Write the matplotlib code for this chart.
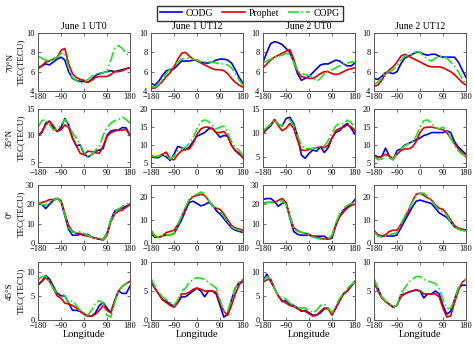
import numpy as np
import matplotlib
matplotlib.use("Agg")
import matplotlib.pyplot as plt

plt.rcParams['font.family'] = ['Liberation Serif', 'DejaVu Serif']
plt.rcParams['axes.unicode_minus'] = True

lon = list(range(-180, 181, 15))

titles = ["June 1 UT0", "June 1 UT12", "June 2 UT0", "June 2 UT12"]
row_labels = ["70°N", "35°N", "0°", "45°S"]
series_names = ["CODG", "Prophet", "COPG"]

# ---- 70°N ----
n70_codg = [
    [6.4, 6.6, 6.8, 6.7, 7.0, 7.3, 7.5, 7.2, 6.0, 5.3, 5.1, 5.0, 5.0, 4.9, 5.2, 5.6, 5.8, 5.9, 6.0, 6.1, 6.0, 6.1, 6.2, 6.3, 6.4],
    [4.8, 4.6, 5.0, 5.6, 6.1, 6.2, 6.3, 6.7, 7.1, 7.1, 7.1, 7.2, 7.2, 7.0, 6.9, 6.9, 7.0, 7.2, 7.3, 7.3, 7.2, 6.9, 6.2, 5.4, 4.8],
    [7.0, 8.0, 8.9, 9.1, 9.0, 8.8, 8.4, 8.0, 7.0, 5.8, 5.1, 5.3, 5.5, 5.9, 6.3, 6.7, 6.8, 6.8, 7.0, 7.2, 7.1, 6.8, 6.6, 6.6, 6.9],
    [5.3, 5.2, 5.5, 5.9, 5.9, 5.8, 6.0, 6.8, 7.4, 7.6, 7.8, 8.0, 8.0, 7.8, 7.7, 7.8, 7.8, 7.6, 7.5, 7.5, 7.5, 7.5, 7.0, 6.2, 5.4],
]
n70_prophet = [
    [6.3, 6.6, 7.0, 7.1, 7.3, 7.5, 8.2, 8.4, 6.8, 5.8, 5.4, 5.2, 5.1, 4.9, 5.1, 5.4, 5.5, 5.5, 5.5, 5.7, 6.0, 6.0, 6.1, 6.3, 6.4],
    [4.3, 4.3, 4.6, 5.0, 5.5, 5.9, 6.5, 7.3, 7.9, 8.0, 7.6, 7.3, 7.1, 6.9, 6.7, 6.5, 6.3, 6.2, 6.2, 6.1, 5.8, 5.3, 4.9, 4.6, 4.4],
    [6.4, 6.8, 7.2, 7.5, 7.7, 7.9, 8.1, 8.3, 7.3, 6.0, 5.5, 5.4, 5.3, 5.3, 5.5, 5.8, 6.0, 6.0, 5.8, 5.7, 5.8, 6.0, 6.2, 6.3, 6.4],
    [4.5, 4.6, 5.1, 5.8, 6.2, 6.5, 7.0, 7.6, 7.8, 7.6, 7.4, 7.2, 7.0, 6.8, 6.6, 6.5, 6.5, 6.5, 6.4, 6.2, 6.0, 5.7, 5.3, 4.9, 4.6],
]
n70_copg = [
    [7.6, 7.4, 7.2, 7.1, 7.3, 7.5, 7.9, 7.9, 6.3, 5.4, 5.1, 4.8, 4.9, 5.2, 5.5, 5.8, 5.7, 5.9, 6.0, 7.2, 8.4, 8.7, 8.4, 7.9, 7.5],
    [4.5, 4.4, 4.7, 5.2, 5.8, 6.3, 6.6, 7.0, 7.3, 7.4, 7.4, 7.3, 7.2, 7.0, 7.0, 7.0, 7.0, 6.9, 6.8, 6.8, 6.7, 6.4, 5.8, 5.1, 4.6],
    [6.9, 7.1, 7.3, 7.5, 7.6, 7.7, 7.9, 7.8, 7.0, 6.1, 5.8, 5.7, 5.6, 5.4, 5.0, 5.3, 5.8, 6.1, 6.2, 6.4, 6.6, 6.8, 6.9, 7.0, 7.0],
    [4.7, 4.9, 5.4, 5.9, 6.0, 6.2, 6.6, 7.2, 7.6, 7.7, 7.8, 8.1, 8.0, 7.6, 7.3, 7.1, 7.4, 7.6, 7.5, 7.4, 7.0, 6.6, 6.0, 5.3, 4.6],
]

# ---- 35°N ----
n35_codg = [
    [10.0, 10.5, 12.3, 12.7, 11.5, 10.7, 11.5, 13.2, 12.0, 9.5, 8.0, 8.2, 6.5, 5.9, 6.3, 7.0, 7.2, 7.5, 10.0, 10.8, 11.0, 11.0, 11.5, 11.4, 10.0],
    [6.8, 6.6, 6.6, 7.3, 6.8, 5.8, 7.5, 9.7, 9.3, 8.8, 9.5, 11.0, 12.5, 13.0, 13.5, 14.5, 14.7, 13.5, 12.2, 12.7, 12.5, 10.0, 8.5, 7.8, 6.5],
    [10.0, 10.8, 11.5, 12.8, 11.8, 11.5, 13.0, 13.3, 12.0, 9.5, 5.5, 4.8, 5.8, 6.5, 6.3, 7.2, 6.0, 7.0, 9.0, 10.2, 10.5, 11.5, 12.0, 11.0, 9.8],
    [7.3, 6.8, 6.8, 9.2, 7.0, 6.0, 8.5, 9.0, 10.0, 10.5, 11.0, 11.5, 12.0, 12.7, 13.0, 13.5, 13.5, 13.5, 13.5, 14.0, 13.5, 11.0, 9.5, 8.5, 7.5],
]
n35_prophet = [
    [10.0, 10.7, 12.0, 12.7, 11.8, 10.8, 11.0, 12.0, 11.5, 9.5, 8.0, 6.6, 6.3, 7.0, 6.9, 6.7, 6.6, 8.0, 9.8, 10.5, 10.8, 11.0, 11.0, 11.1, 10.0],
    [6.8, 6.8, 7.0, 7.5, 8.1, 6.2, 6.0, 7.5, 8.5, 8.8, 9.0, 10.5, 13.0, 14.5, 15.0, 15.0, 14.5, 13.5, 13.5, 13.8, 12.5, 10.0, 8.5, 7.5, 6.8],
    [10.0, 11.0, 11.8, 12.8, 11.5, 10.5, 11.0, 12.0, 11.0, 8.5, 6.5, 6.4, 6.6, 6.8, 7.0, 7.2, 7.0, 7.5, 9.0, 10.5, 11.0, 11.2, 11.7, 11.3, 10.5],
    [7.0, 6.5, 7.0, 7.5, 7.0, 6.2, 7.5, 8.5, 9.0, 9.0, 9.5, 11.0, 13.5, 14.8, 15.0, 15.0, 14.8, 14.5, 14.3, 13.5, 12.0, 10.5, 9.0, 7.8, 6.8],
]
n35_copg = [
    [11.5, 12.8, 13.0, 12.0, 11.0, 11.2, 12.0, 13.0, 12.0, 10.5, 9.5, 8.3, 6.8, 5.8, 6.3, 7.2, 7.8, 10.0, 11.5, 12.3, 12.8, 13.0, 13.5, 13.0, 12.3],
    [7.2, 6.9, 7.0, 7.3, 7.0, 6.2, 7.0, 8.5, 9.0, 9.5, 10.5, 12.0, 14.5, 16.5, 17.0, 16.5, 15.5, 14.5, 15.0, 15.3, 13.5, 11.0, 9.5, 8.5, 7.2],
    [10.5, 11.2, 11.8, 12.8, 11.8, 11.5, 12.5, 12.8, 11.5, 9.5, 7.5, 6.8, 6.8, 6.8, 7.0, 7.3, 7.3, 8.5, 10.0, 11.5, 12.0, 12.0, 12.7, 12.2, 11.0],
    [7.0, 6.0, 6.2, 7.0, 6.5, 6.0, 8.0, 9.0, 9.8, 10.5, 11.0, 12.5, 15.0, 16.8, 17.0, 16.0, 15.0, 14.5, 15.0, 14.0, 12.0, 10.0, 8.5, 7.5, 7.0],
]

# ---- 0° ----
eq_codg = [
    [20.5, 20.0, 17.8, 20.0, 22.0, 23.0, 21.5, 14.0, 7.0, 4.0, 4.0, 4.5, 4.0, 4.5, 3.0, 2.5, 2.0, 2.0, 5.0, 12.0, 16.5, 17.5, 18.0, 19.0, 20.0],
    [4.0, 2.5, 2.5, 3.0, 3.5, 3.5, 4.0, 7.0, 10.0, 14.0, 17.5, 18.0, 17.0, 16.0, 16.5, 17.5, 16.5, 14.0, 12.5, 10.5, 8.5, 6.5, 5.5, 5.0, 4.5],
    [22.5, 23.0, 23.0, 21.5, 19.0, 20.5, 21.0, 13.0, 6.0, 4.5, 4.0, 4.0, 4.0, 3.5, 3.5, 3.5, 3.5, 2.0, 2.5, 9.0, 14.0, 17.0, 18.5, 20.0, 22.5],
    [5.0, 3.5, 3.0, 3.0, 3.0, 3.0, 3.5, 6.5, 9.5, 12.5, 15.5, 18.0, 18.5, 18.0, 17.5, 17.0, 15.0, 13.0, 12.0, 11.0, 9.0, 7.0, 6.0, 5.5, 5.5],
]
eq_prophet = [
    [20.5, 21.0, 21.5, 22.5, 22.5, 23.0, 22.0, 15.5, 9.0, 6.0, 5.0, 5.0, 4.0, 3.5, 3.0, 2.5, 2.0, 1.5, 4.0, 11.0, 15.0, 16.5, 17.0, 18.5, 20.0],
    [5.5, 3.0, 2.5, 3.0, 4.5, 5.0, 5.5, 8.0, 11.5, 15.0, 18.5, 20.0, 20.5, 21.0, 20.5, 18.5, 16.0, 15.0, 14.5, 12.5, 10.0, 7.5, 6.5, 6.0, 5.5],
    [20.5, 21.0, 21.0, 21.0, 22.0, 23.0, 21.0, 14.0, 8.0, 6.5, 5.5, 5.0, 4.5, 3.5, 3.0, 2.5, 2.0, 2.0, 3.5, 9.5, 13.5, 16.0, 18.0, 19.5, 20.0],
    [5.5, 3.5, 3.0, 3.5, 5.0, 5.5, 5.5, 8.0, 11.0, 14.0, 18.0, 21.0, 21.5, 20.5, 19.5, 18.5, 16.5, 15.0, 14.5, 12.5, 10.0, 7.5, 6.5, 6.0, 5.5],
]
eq_copg = [
    [21.0, 20.0, 19.5, 21.5, 22.0, 23.0, 21.0, 14.5, 8.0, 5.5, 5.5, 6.0, 5.0, 4.0, 3.0, 2.5, 2.5, 2.0, 5.0, 12.0, 16.5, 17.5, 19.0, 20.0, 21.0],
    [5.0, 3.0, 2.5, 3.0, 3.5, 3.5, 4.0, 8.0, 11.5, 15.5, 19.0, 20.5, 21.0, 22.0, 21.0, 18.5, 16.0, 15.0, 13.5, 11.5, 9.0, 7.0, 6.0, 5.5, 4.5],
    [20.0, 21.0, 21.0, 21.0, 21.0, 22.0, 20.0, 13.5, 7.5, 6.0, 5.5, 5.0, 4.0, 3.0, 2.5, 2.0, 2.0, 2.0, 4.0, 10.5, 15.0, 18.0, 19.5, 20.5, 20.5],
    [5.0, 3.0, 2.5, 3.0, 3.5, 4.0, 4.5, 8.0, 11.5, 14.5, 17.5, 20.5, 21.5, 21.5, 20.0, 18.5, 16.0, 14.0, 13.5, 12.0, 9.0, 7.0, 6.0, 5.5, 5.0],
]

# ---- 45°S ----
s45_codg = [
    [7.2, 8.0, 9.2, 8.5, 7.0, 5.5, 5.0, 5.0, 3.5, 2.0, 2.0, 1.8, 1.3, 0.8, 0.8, 1.5, 3.0, 3.6, 2.5, 1.5, 4.0, 6.0, 5.5, 5.5, 7.0],
    [6.5, 5.5, 4.5, 3.5, 3.2, 2.8, 2.3, 3.0, 4.0, 4.0, 4.5, 5.0, 5.5, 5.0, 4.0, 5.0, 5.0, 4.5, 2.5, 0.5, 1.0, 3.5, 5.5, 6.5, 6.5],
    [8.0, 9.5, 8.0, 6.5, 5.0, 3.8, 4.0, 3.2, 3.0, 2.5, 1.8, 2.0, 1.5, 1.0, 1.0, 1.5, 2.3, 2.5, 1.2, 2.5, 4.0, 5.5, 6.0, 7.0, 8.0],
    [6.0, 5.5, 4.0, 3.2, 2.7, 2.2, 2.5, 4.3, 4.5, 4.8, 5.0, 5.2, 5.0, 3.8, 4.5, 4.5, 5.0, 4.5, 2.5, 1.0, 1.5, 3.5, 5.5, 6.0, 6.0],
]
s45_prophet = [
    [7.5, 8.0, 8.8, 8.0, 6.5, 5.0, 4.5, 3.5, 3.3, 3.0, 2.5, 1.8, 1.2, 0.8, 0.8, 1.2, 2.0, 3.0, 2.0, 1.5, 4.0, 6.0, 7.0, 7.5, 8.0],
    [7.0, 5.5, 4.5, 3.5, 3.0, 2.5, 2.2, 3.0, 4.5, 4.5, 4.8, 5.3, 5.5, 5.3, 5.0, 5.0, 5.0, 4.8, 3.0, 1.5, 0.8, 2.5, 4.5, 6.0, 7.0],
    [7.8, 8.3, 8.5, 6.5, 5.0, 4.0, 3.5, 3.0, 2.8, 2.3, 2.0, 1.8, 1.3, 0.8, 1.0, 1.8, 2.5, 2.3, 1.0, 2.5, 4.0, 5.3, 6.0, 7.0, 8.0],
    [7.0, 5.0, 3.8, 3.2, 2.7, 2.3, 2.5, 4.0, 4.5, 4.8, 5.0, 5.2, 5.0, 4.5, 4.5, 4.5, 4.5, 4.0, 2.0, 0.5, 0.7, 3.0, 5.0, 6.5, 7.0],
]
s45_copg = [
    [8.3, 9.0, 9.0, 8.0, 6.5, 5.5, 5.5, 5.0, 3.5, 4.0, 3.0, 2.0, 1.5, 1.0, 2.0, 3.5, 4.0, 3.5, 1.0, 0.6, 3.5, 6.0, 7.0, 7.5, 8.0],
    [7.2, 5.8, 4.8, 4.0, 3.5, 3.0, 2.5, 3.5, 5.0, 5.5, 6.5, 7.0, 7.3, 7.2, 7.0, 6.5, 6.0, 5.5, 3.5, 1.5, 1.5, 3.5, 5.5, 6.5, 7.0],
    [8.0, 9.0, 8.5, 6.5, 5.0, 4.5, 4.3, 3.5, 3.0, 2.5, 2.5, 2.5, 2.0, 1.5, 2.0, 3.0, 3.3, 2.5, 1.5, 3.0, 4.5, 5.5, 6.5, 7.3, 8.0],
    [7.2, 5.5, 4.0, 3.3, 2.8, 2.3, 2.5, 4.5, 5.5, 6.5, 7.0, 7.5, 7.5, 7.0, 6.8, 6.5, 6.3, 5.5, 3.5, 2.0, 2.0, 3.5, 5.5, 6.5, 7.0],
]

rows = [
    (n70_codg, n70_prophet, n70_copg),
    (n35_codg, n35_prophet, n35_copg),
    (eq_codg, eq_prophet, eq_copg),
    (s45_codg, s45_prophet, s45_copg),
]

ylims = [
    [(4, 10)] * 4,
    [(4, 15), (4, 20), (3, 15), (4, 20)],
    [(0, 30), (0, 25), (0, 30), (0, 25)],
    [(0, 12), (0, 10), (0, 12), (0, 10)],
]
yticks = [
    [[4, 6, 8, 10]] * 4,
    [[5, 10, 15], [5, 10, 15, 20], [5, 10, 15], [5, 10, 15, 20]],
    [[0, 10, 20, 30], [0, 10, 20], [0, 10, 20, 30], [0, 10, 20]],
    [[0, 5, 10]] * 4,
]

colors = ["#0000e0", "#e00000", "#22dd22"]
styles = ["-", "-", "-."]

W, H = 474, 347
fig = plt.figure(figsize=(W / 100, H / 100), dpi=100)

col_left = [38, 151, 263, 374]
row_top = [33, 109, 185, 262]
aw, ah = 92, 58
frame_col = "#555555"

handles = None
for r in range(4):
    for c in range(4):
        ax = fig.add_axes([col_left[c] / W, 1 - (row_top[r] + ah) / H, aw / W, ah / H])
        lines = []
        for k in range(3):
            ln, = ax.plot(lon, rows[r][k][c], color=colors[k], ls=styles[k], lw=1.2,
                          label=series_names[k])
            lines.append(ln)
        handles = lines
        ax.set_xlim(-180, 180)
        ax.set_ylim(*ylims[r][c])
        ax.set_xticks([-180, -90, 0, 90, 180])
        ax.set_yticks(yticks[r][c])
        ax.tick_params(direction="in", top=True, right=True, length=2.2, width=0.6,
                       labelsize=6, colors=frame_col, labelcolor="black")
        ax.tick_params(axis="x", pad=1.5)
        ax.tick_params(axis="y", pad=2.5)
        for s in ax.spines.values():
            s.set_color(frame_col)
            s.set_linewidth(0.7)
        if r == 0:
            ax.set_title(titles[c], fontsize=7, pad=3)
        if r == 3:
            ax.set_xlabel("Longitude", fontsize=7.5, labelpad=0)
        if c == 0:
            ax.set_ylabel(row_labels[r] + "\nTEC(TECU)", fontsize=6.5,
                          linespacing=1.5)
            ax.yaxis.set_label_coords(-13 / aw, 0.5)

fig.legend(handles, series_names, loc="upper center", ncol=3,
           bbox_to_anchor=(250 / W, 1 - 1 / H), fontsize=7, frameon=True,
           fancybox=False, edgecolor="black", handlelength=2.3,
           columnspacing=0.9, handletextpad=0.4, borderpad=0.3)

fig.savefig("out.png", dpi=100)
